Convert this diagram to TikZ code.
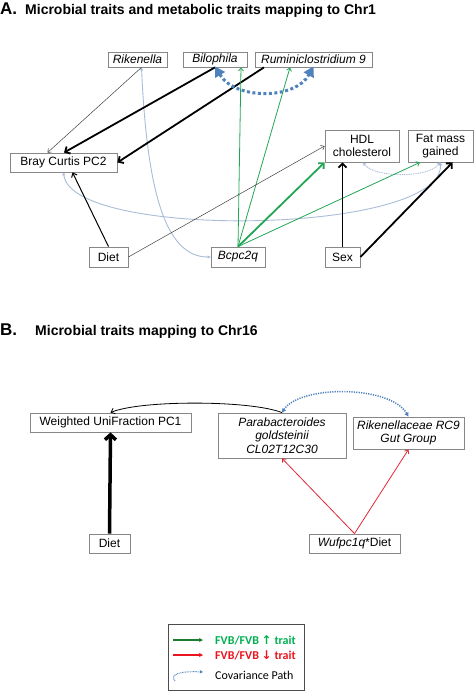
\documentclass[tikz,border=0pt]{standalone}
\usepackage{fontspec}
\setmainfont{Liberation Sans}
\newfontfamily\legendfont{Carlito}
\newfontfamily\symfont{DejaVu Sans}
\usetikzlibrary{arrows.meta,calc}
\definecolor{boxgray}{RGB}{135,135,135}
\definecolor{covlight}{RGB}{170,188,215}
\definecolor{covblue}{RGB}{79,129,189}
\definecolor{upgreen}{RGB}{34,165,85}
\definecolor{downred}{RGB}{226,38,52}
\definecolor{keygreen}{RGB}{30,125,45}
\definecolor{txtgreen}{RGB}{0,176,80}
\definecolor{txtred}{RGB}{235,20,30}

\begin{document}
\begin{tikzpicture}[x=1pt,y=-1pt,
	trait/.style={draw=boxgray,line width=0.8pt,inner sep=0pt,align=center,font=\fontsize{12}{13.5}\selectfont},
	size/.style 2 args={minimum width=#1,minimum height=#2},
	lnk/.style={draw=black!75,line width=0.5pt,-{Straight Barb[length=3pt,width=5pt]}},
	lnkmid/.style={draw=black,line width=1pt,-{Straight Barb[length=3.5pt,width=6pt]}},
	lnkthick/.style={draw=black,line width=1.8pt,-{Straight Barb[length=4pt,width=8pt]}},
	lnkheavy/.style={draw=black,line width=3.5pt,-{Straight Barb[length=5pt,width=11pt]}},
	gup/.style={draw=upgreen,line width=0.8pt,-{Straight Barb[length=3pt,width=5pt]}},
	gupthick/.style={draw=upgreen,line width=1.8pt,-{Straight Barb[length=4pt,width=8pt]}},
	rdown/.style={draw=downred,line width=0.8pt,-{Straight Barb[length=3pt,width=5pt]}},
	covline/.style={draw=covlight,line width=0.9pt,{Triangle[length=3pt,width=3pt]}-{Triangle[length=3pt,width=3pt]}},
	covdots/.style={draw=covblue,line width=1.5pt,dash pattern=on 1.2pt off 1.2pt,{Triangle[length=4pt,width=4pt]}-{Triangle[length=4pt,width=4pt]}},
	covbig/.style={draw=covblue,line width=3pt,dash pattern=on 3pt off 2.5pt,{Triangle[length=10pt,width=11pt]}-{Triangle[length=10pt,width=11pt]}},
	heading/.style={anchor=base west,inner sep=0pt,font=\fontsize{14}{16}\selectfont\bfseries},
	letter/.style={anchor=base west,inner sep=0pt,font=\fontsize{17}{19}\selectfont\bfseries},
	keytext/.style={anchor=west,inner sep=0pt,font=\legendfont\fontsize{12}{14}\selectfont}]
	\useasboundingbox (0,0) rectangle (474,692);

	\node[letter] (la) at (0,15) {A.};
	\node[heading] (ta) at (25,15) {Microbial traits and metabolic traits mapping to Chr1};
	\node[trait,size={59pt}{15pt}] (rik) at (137.5,59.5) {\itshape Rikenella};
	\node[trait,size={64pt}{15pt}] (bil) at (215,59.5) {\itshape Bilophila};
	\node[trait,size={117pt}{15pt}] (rum) at (313.5,59.5) {\itshape Ruminiclostridium 9};
	\node[trait,size={74pt}{32pt}] (hdl) at (362,146) {HDL\\cholesterol};
	\node[trait,size={65pt}{32pt}] (fat) at (440.5,146) {Fat mass\\gained};
	\node[trait,size={107pt}{19pt}] (bray) at (63.5,162.5) {Bray Curtis PC2};
	\node[trait,size={39pt}{20pt}] (dieta) at (108.5,257) {Diet};
	\node[trait,size={54pt}{20pt}] (bcpc) at (238,257) {\itshape Bcpc2q};
	\node[trait,size={35pt}{20pt}] (sex) at (342.5,257) {Sex};

	\draw[covline] ([xshift=4pt]rik.south) .. controls (147,190) and (165,257) .. (bcpc.west);
	\draw[covline] (bray.south) .. controls (72,240) and (442,235) .. (fat.south);
	\draw[covline,dash pattern=on 1pt off 0.8pt] ([xshift=1pt]hdl.south) .. controls (375,178) and (428,178) .. ([xshift=-0.5pt]fat.south);
	\draw[lnk] ([xshift=4pt]rik.south) -- ([xshift=-16pt]bray.north);
	\draw[lnkthick] (bil.south) -- ([xshift=0.5pt]bray.north);
	\draw[lnkthick] ([xshift=-49.5pt]rum.south) -- (bray.east);
	\draw[covbig] ([yshift=1pt]bil.south) .. controls (235,100) and (295,100) .. ([yshift=1pt]rum.south);
	\draw[gup] (bcpc.north) -- ([xshift=26pt]bil.south);
	\draw[gup] (bcpc.north) -- ([xshift=-23.5pt]rum.south);
	\draw[gupthick] (bcpc.north) -- (hdl.south west);
	\draw[gup] (bcpc.north) -- ([xshift=-20.5pt]fat.south);
	\draw[lnk] (dieta.east) -- (hdl.west);
	\draw[lnkmid] (dieta.north) -- ([xshift=9pt]bray.south);
	\draw[lnkthick] (sex.north) -- ([xshift=-19.5pt]hdl.south);
	\draw[lnkthick] (sex.east) -- ([xshift=12pt]fat.south);

	\node[letter] (lb) at (0,335) {B.};
	\node[heading] (tb) at (35,335) {Microbial traits mapping to Chr16};
	\node[trait,size={161pt}{19pt}] (wuf) at (110.5,422.5) {Weighted UniFraction PC1};
	\node[trait,size={128pt}{45pt},font=\fontsize{12}{13.5}\selectfont\itshape] (para) at (282,435.5) {Parabacteroides\\goldsteinii\\CL02T12C30};
	\node[trait,size={111pt}{32pt},font=\fontsize{12}{13.5}\selectfont\itshape] (rc9) at (408.5,433) {Rikenellaceae RC9\\Gut Group};
	\node[trait,size={41pt}{19pt}] (dietb) at (109.5,543.5) {Diet};
	\node[trait,size={91pt}{19pt}] (wufd) at (354.5,543.5) {\textit{Wufpc1q}*Diet};

	\draw[lnkmid,line width=0.8pt] (para.north) .. controls (250,400) and (140,400) .. (wuf.north);
	\draw[covdots] (para.north) .. controls (300,385) and (390,385) .. (rc9.north);
	\draw[lnkheavy] (dietb.north) -- (wuf.south);
	\draw[rdown] (wufd.north) -- (para.south);
	\draw[rdown] (wufd.north) -- (rc9.south);

	\node[draw=black!70,line width=0.8pt,minimum width=136pt,minimum height=66pt,inner sep=0pt] (key) at (236,657) {};
	\coordinate (ka1) at (173,640); \coordinate (ka2) at (203,640);
	\coordinate (kb1) at (173,655); \coordinate (kb2) at (203,655);
	\coordinate (kc1) at (175,681); \coordinate (kc2) at (203,672);
	\draw[keygreen,line width=1.2pt,-{Stealth[length=4pt,width=4pt]}] (ka1) -- (ka2);
	\draw[txtred,line width=1.2pt,-{Stealth[length=4pt,width=4pt]}] (kb1) -- (kb2);
	\draw[covblue,line width=1pt,dash pattern=on 0.8pt off 0.8pt,-{Triangle[length=3pt,width=3pt]}] (kc1) .. controls (168,673) and (185,671) .. (kc2);
	\node[keytext,text=txtgreen] (kup) at (215,640) {\bfseries FVB/FVB {\symfont\bfseries\fontsize{12}{14}\selectfont ↑} trait};
	\node[keytext,text=txtred] (kdown) at (215,655) {\bfseries FVB/FVB {\symfont\bfseries\fontsize{12}{14}\selectfont ↓} trait};
	\node[keytext] (kcov) at (215,675) {Covariance Path};
\end{tikzpicture}
\end{document}
